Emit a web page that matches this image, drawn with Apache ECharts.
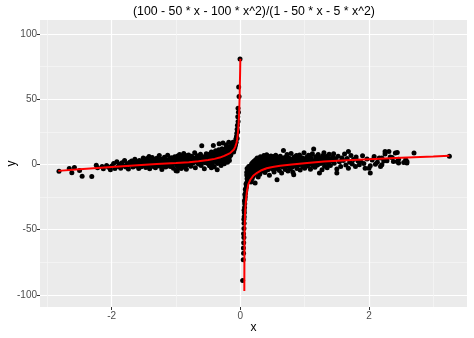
<!DOCTYPE html>
<html><head><meta charset="utf-8">
<script src="https://cdn.jsdelivr.net/npm/echarts@6/dist/echarts.min.js"></script>
<style>html,body{margin:0;padding:0;background:#fff}#c{width:474px;height:338px}</style>
</head><body><div id="c"></div>
<script>
const titleText = "(100 - 50 * x - 100 * x^2)/(1 - 50 * x - 5 * x^2)";
const xTicks = [-2, 0, 2];
const xMinor = [-3, -1, 1, 3];
const yTicks = [-100, -50, 0, 50, 100];
const yMinor = [-75, -25, 25, 75];

const curveLeft = [[-2.83,-4.9],[-2.5,-3.7],[-2.0,-1.9],[-1.6,-0.5],[-1.3,0.4],[-1.0,1.1],[-0.8,1.8],[-0.65,2.5],[-0.5,3.4],[-0.4,4.3],[-0.32,5.3],[-0.25,6.6],[-0.2,7.8],[-0.16,8.7],[-0.13,9.8],[-0.1,11.5],[-0.08,13.5],[-0.06,16.5],[-0.05,19],[-0.04,23],[-0.03,29],[-0.022,36],[-0.016,43],[-0.011,52],[-0.007,62],[-0.003,72],[0.0,81]];
const curveRight = [[0.062,-97],[0.063,-75],[0.065,-55],[0.07,-42],[0.078,-33],[0.09,-26],[0.104,-20],[0.125,-15],[0.155,-11.7],[0.2,-8.7],[0.26,-6.4],[0.33,-4.4],[0.41,-2.9],[0.5,-1.9],[0.62,-1.0],[0.8,0.0],[1.04,1.2],[1.3,2.2],[1.66,3.3],[2.0,4.1],[2.5,5.2],[3.0,6.1],[3.25,6.6]];

const pointsLeft = [
[-2.82,-5.2],[-2.66,-3.0],[-2.62,-6.3],[-2.58,-2.4],[-2.50,-4.6],[-2.46,-9.0],[-2.31,-9.3],[-2.24,-0.6],[-2.22,-2.6],[-2.15,-1.5],[-2.13,-3.2],[-2.08,-0.8],[-2.05,-2.2],[-2.02,-4.0],[-2.00,-1.2],[-1.97,0.8],[-1.95,-3.1],[-1.92,2.0],
[-1.90,-1.6],[-1.88,0.2],[-1.86,-2.8],[-1.84,1.4],[-1.82,-0.9],[-1.80,3.0],[-1.78,-1.9],[-1.76,0.6],[-1.74,-3.5],[-1.72,1.8],[-1.70,-0.4],[-1.69,2.6],[-1.67,-2.0],[-1.65,0.9],[-1.64,4.1],[-1.62,-1.2],[-1.60,1.7],[-1.58,-3.0],[-1.57,3.1],[-1.55,0.0],[-1.54,-1.8],[-1.52,2.2],[-1.51,5.0],[-1.50,-0.7],
[-1.49,1.2],[-1.48,3.4],[-1.47,-2.4],[-1.46,0.5],[-1.45,4.6],[-1.44,-1.0],[-1.43,2.0],[-1.42,6.2],[-1.41,-3.2],[-1.40,1.0],[-1.39,3.0],[-1.38,-0.3],[-1.37,5.3],[-1.36,2.5],[-1.35,-1.6],[-1.34,0.8],[-1.33,3.9],[-1.32,-2.6],[-1.31,1.6],[-1.30,4.8],[-1.29,-0.5],[-1.28,2.9],[-1.27,0.3],[-1.26,6.8],[-1.25,-1.3],[-1.24,2.2],[-1.23,4.0],[-1.22,-3.8],[-1.21,1.1],[-1.20,3.5],[-1.19,-0.9],[-1.18,5.6],[-1.17,1.9],[-1.16,-2.0],[-1.15,0.4],[-1.14,3.2],[-1.13,7.0],[-1.12,-0.2],[-1.11,2.6],[-1.10,4.4],[-1.09,-1.5],[-1.08,1.4],[-1.07,5.1],[-1.06,0.1],[-1.05,3.6],[-1.04,-2.9],[-1.03,2.1],[-1.02,6.0],[-1.01,0.7],[-1.00,-4.8],[-0.98,-5.0],
[-0.995,2.4],[-0.99,4.9],[-0.985,-0.6],[-0.98,1.8],[-0.975,6.5],[-0.97,3.1],[-0.965,-2.2],[-0.96,0.9],[-0.955,4.2],[-0.95,2.7],[-0.945,7.6],[-0.94,-1.1],[-0.935,1.5],[-0.93,5.4],[-0.925,3.3],[-0.92,-3.0],[-0.915,0.4],[-0.91,2.0],[-0.905,6.1],[-0.90,4.0],[-0.895,-0.5],[-0.89,1.7],[-0.885,3.8],[-0.88,8.4],[-0.875,2.3],[-0.87,-1.9],[-0.865,5.0],[-0.86,0.8],[-0.855,3.0],[-0.85,6.9],[-0.845,1.2],[-0.84,-3.6],[-0.835,4.5],[-0.83,2.5],[-0.825,-0.2],[-0.82,5.8],[-0.815,1.6],[-0.81,3.5],[-0.805,7.2],[-0.80,0.3],
[-0.79,4.7],[-0.78,2.2],[-0.77,-1.4],[-0.76,6.3],[-0.75,3.1],[-0.74,0.9],[-0.73,5.2],[-0.72,2.6],[-0.71,9.0],[-0.70,-2.5],[-0.69,4.0],[-0.68,1.7],[-0.67,6.6],[-0.66,3.3],[-0.65,0.4],[-0.64,5.5],[-0.63,2.4],[-0.62,7.8],[-0.61,-0.8],[-0.60,4.3],[-0.60,14.3],[-0.59,2.0],[-0.58,6.0],[-0.57,3.6],[-0.56,-3.2],[-0.55,1.3],[-0.54,5.0],[-0.53,8.2],[-0.52,2.8],[-0.51,4.6],[-0.50,0.6],
[-0.495,6.8],[-0.49,2.9],[-0.485,5.2],[-0.48,-0.9],[-0.475,8.0],[-0.47,4.1],[-0.465,1.8],[-0.46,6.3],[-0.455,3.5],[-0.45,9.6],[-0.45,-2.5],[-0.445,2.2],[-0.44,5.6],[-0.435,0.4],[-0.43,7.4],[-0.425,4.6],[-0.42,2.9],[-0.42,14.5],[-0.415,8.8],[-0.41,6.0],[-0.405,-1.8],[-0.40,4.9],[-0.395,3.0],[-0.39,7.1],[-0.385,10.5],[-0.38,5.3],[-0.375,1.9],[-0.37,6.6],[-0.365,3.9],[-0.36,9.2],[-0.36,-4.0],[-0.355,0.8],[-0.35,5.8],[-0.345,7.9],[-0.34,3.2],[-0.335,11.2],[-0.33,6.1],[-0.33,15.8],[-0.325,4.4],[-0.32,8.5],[-0.315,2.3],[-0.31,6.9],[-0.305,10.0],[-0.30,5.0],[-0.30,-0.8],[-0.295,7.6],[-0.29,3.6],[-0.285,12.0],[-0.28,6.4],[-0.275,9.1],[-0.27,4.5],[-0.27,16.5],[-0.265,7.2],[-0.26,1.6],[-0.255,10.8],[-0.25,6.0],[-0.25,0.5],[-0.245,8.3],[-0.24,4.0],[-0.235,11.6],[-0.23,7.0],[-0.225,9.5],[-0.22,5.2],[-0.22,15.0],[-0.215,13.0],[-0.21,8.0],[-0.205,6.4],[-0.20,10.4],[-0.20,1.8],[-0.195,3.8],[-0.19,9.0],[-0.185,12.4],[-0.18,7.4],[-0.18,17.0],[-0.175,10.2],[-0.17,5.8],[-0.17,3.0],[-0.165,13.8],[-0.16,9.2],[-0.155,11.4],[-0.15,7.0],
[-0.145,11.8],[-0.14,9.0],[-0.13,13.5],[-0.125,15.5],[-0.12,10.5],[-0.115,17.0],[-0.11,12.5],[-0.105,9.5],[-0.1,14.0],[-0.095,11.5],[-0.09,15.5],[-0.085,13.0],[-0.08,17.5],[-0.075,15.0],[-0.07,19.5],[-0.065,17.0],[-0.06,21.5],[-0.055,24.0],[-0.05,20.0],[-0.05,27.0],[-0.045,30.0],[-0.042,25.0],[-0.04,36.5],[-0.035,33.0],[-0.03,40.0],[-0.036,43.0],[-0.02,52.0],[-0.026,59.3],[-0.005,80.9]
];

const pointsRight = [
[0.036,-88.8],[0.045,-73],[0.05,-68],[0.048,-64],[0.052,-60],[0.055,-56],[0.05,-53],[0.056,-49],[0.058,-45],[0.055,-42],[0.06,-40],[0.062,-37],[0.058,-35],[0.065,-33],[0.068,-30],[0.064,-28],[0.072,-27],[0.076,-25],[0.07,-23],[0.08,-22],[0.085,-20],[0.078,-19],[0.09,-18],[0.095,-16.5],[0.088,-15],[0.1,-14],[0.11,-13],[0.105,-11],[0.12,-12.5],[0.115,-10],
[0.1,-6],[0.105,-3],[0.11,-9],[0.12,-4],[0.13,-1.5],[0.135,-7],[0.14,-3.5],[0.1,-8],[0.125,-9.5],[0.145,-5],
[0.152,-7.0],[0.155,-3.5],[0.158,-10.0],[0.16,-1.0],[0.163,-5.5],[0.166,-13.5],[0.17,-2.5],[0.173,-8.0],[0.176,0.5],[0.18,-4.5],[0.183,-11.0],[0.186,-1.8],[0.19,-6.5],[0.193,1.5],[0.196,-3.8],[0.2,-9.0],[0.204,-0.5],[0.208,-5.0],[0.212,2.5],[0.216,-2.6],[0.22,-7.5],[0.225,0.8],[0.23,-14.2],[0.234,-3.4],[0.238,3.6],[0.242,-1.2],[0.247,-6.0],[0.252,1.8],[0.257,-2.2],[0.262,5.0],[0.267,-4.5],[0.272,0.0],[0.277,-9.5],[0.282,2.9],[0.287,-1.6],[0.292,4.2],[0.297,-3.0],[0.302,-7.4],[0.307,1.0],[0.312,6.0],[0.318,-0.8],[0.324,3.2],[0.33,-5.2],[0.336,-1.9],[0.342,4.8],[0.348,0.6],[0.354,-3.6],[0.36,2.4],[0.366,6.8],[0.372,-1.0],[0.378,3.8],[0.384,-6.2],[0.39,1.4],[0.396,5.4],[0.402,-2.0],[0.41,7.4],[0.416,0.2],[0.422,3.0],[0.428,-4.0],[0.434,5.9],[0.44,-0.6],[0.446,2.0],[0.452,-8.2],[0.458,4.4],[0.464,1.2],[0.47,-2.8],[0.476,6.5],[0.482,0.0],[0.488,3.4],[0.494,-1.4],[0.5,5.2],
[0.505,-3.6],[0.51,2.6],[0.515,-0.2],[0.52,6.2],[0.525,-5.8],[0.53,1.5],[0.535,4.0],[0.54,-1.8],[0.545,0.9],[0.55,7.0],[0.555,-3.0],[0.56,2.2],[0.565,-0.8],[0.57,-11.7],[0.575,4.6],[0.58,1.0],[0.585,-2.4],[0.59,5.6],[0.595,-0.3],[0.6,3.0],[0.607,-4.6],[0.614,1.8],[0.621,6.4],[0.628,-1.2],[0.635,3.6],[0.642,-6.6],[0.649,0.6],[0.656,4.8],[0.663,-2.0],[0.67,10.7],[0.677,2.0],[0.684,-0.6],[0.691,5.4],[0.698,-3.8],[0.705,1.2],[0.712,3.9],[0.719,-1.5],[0.726,7.6],[0.733,0.2],[0.74,-5.0],[0.747,2.8],[0.754,5.0],[0.761,-0.8],[0.768,1.9],[0.775,-3.4],[0.782,4.2],[0.789,8.4],[0.796,0.6],[0.803,-2.2],[0.81,3.2],[0.817,-6.0],[0.824,1.4],[0.83,-7.9],[0.837,5.8],[0.844,2.4],[0.851,-1.0],[0.858,3.8],[0.865,0.4],[0.872,6.8],[0.879,-3.0],[0.886,2.0],[0.893,4.6],[0.9,-0.6],[0.91,1.6],[0.92,7.2],[0.93,-4.2],[0.94,3.0],[0.95,0.0],[0.96,5.2],[0.97,-1.8],[0.98,2.6],[0.99,9.0],[1.0,-2.8],
[1.01,3.8],[1.02,0.6],[1.03,5.6],[1.04,-1.2],[1.05,2.4],[1.06,7.0],[1.07,0.0],[1.08,3.4],[1.09,-3.6],[1.1,5.0],[1.11,1.6],[1.12,8.2],[1.13,-0.8],[1.14,11.8],[1.15,3.0],[1.16,-2.2],[1.17,6.0],[1.18,1.2],[1.19,4.2],[1.2,-0.4],[1.21,7.6],[1.22,2.4],[1.23,-6.6],[1.24,5.2],[1.25,0.8],[1.26,3.6],[1.27,-4.1],[1.28,6.6],[1.29,1.8],[1.3,9.0],[1.31,-1.4],[1.32,4.0],[1.33,2.2],[1.34,6.2],[1.35,-2.6],[1.36,3.2],[1.37,0.4],[1.38,7.8],[1.39,4.6],[1.4,-0.8],[1.42,2.8],[1.44,5.8],[1.45,8.2],[1.46,1.0],[1.48,4.4],[1.5,-3.5],[1.5,-6.6],[1.52,6.4],[1.54,2.0],[1.56,-1.6],[1.58,5.0],[1.6,3.0],
[1.62,8.0],[1.64,-0.4],[1.66,4.6],[1.68,10.0],[1.68,-2.8],[1.7,1.8],[1.72,6.8],[1.74,0.3],[1.76,3.8],[1.79,-1.5],[1.8,5.8],[1.83,2.6],[1.85,-0.2],[1.87,2.3],[1.9,6.6],[1.92,0.8],[1.94,-2.8],[1.97,4.2],[2.0,-2.8],[2.02,-6.6],[2.02,-1.0],[2.05,3.4],[2.08,6.2],[2.1,0.2],[2.13,1.8],[2.16,5.0],[2.18,-1.5],[2.2,4.9],[2.2,-0.2],[2.23,2.6],[2.25,8.0],[2.25,10.0],[2.28,2.8],[2.31,10.0],[2.33,5.8],[2.36,5.4],[2.38,2.3],[2.41,8.7],[2.44,2.3],[2.44,9.2],[2.46,1.1],[2.46,4.1],[2.54,1.5],[2.57,3.6],[2.59,1.1],[2.59,2.3],[2.7,8.7],[3.25,6.4]
];

const X_MIN = -3.115, X_MAX = 3.524, Y_MIN = -109.2, Y_MAX = 110.7;
const FONT = 'Liberation Sans, Arial, sans-serif';

const chart = echarts.init(document.getElementById('c'), null, {renderer: 'canvas'});
function hiddenAxis(min, max, vals, pos) {
  return {type: 'value', min: min, max: max, position: pos, axisLine: {show: false, onZero: false},
    axisTick: {show: false, customValues: vals}, axisLabel: {show: false, customValues: vals},
    splitLine: {show: true, lineStyle: {color: '#F5F5F5', width: 0.8}}};
}
chart.setOption({
  animation: false,
  backgroundColor: '#ffffff',
  title: {text: titleText, left: 133, top: 6, padding: 0,
    textStyle: {fontSize: 12.3, fontWeight: 'normal', color: '#000', fontFamily: FONT}},
  grid: {left: 40, right: 7, top: 20, bottom: 31, show: true, backgroundColor: '#EBEBEB', borderWidth: 0,
    containLabel: false, outerBoundsMode: 'none'},
  xAxis: [
    hiddenAxis(X_MIN, X_MAX, xMinor, 'top'),
    {type: 'value', min: X_MIN, max: X_MAX, position: 'bottom', name: 'x', nameLocation: 'middle', nameGap: 15,
     nameMoveOverlap: false,
     nameTextStyle: {fontSize: 12, color: '#000', fontFamily: FONT},
     axisLine: {show: false, onZero: false},
     axisTick: {show: true, length: 3, lineStyle: {color: '#333'}, customValues: xTicks},
     axisLabel: {customValues: xTicks, fontSize: 10, color: '#4D4D4D', margin: 4, fontFamily: FONT},
     splitLine: {show: true, lineStyle: {color: '#FFFFFF', width: 1.2}}}
  ],
  yAxis: [
    hiddenAxis(Y_MIN, Y_MAX, yMinor, 'right'),
    {type: 'value', min: Y_MIN, max: Y_MAX, position: 'left', name: 'y', nameLocation: 'middle', nameGap: 22, nameRotate: 90,
     nameMoveOverlap: false,
     nameTextStyle: {fontSize: 12, color: '#000', fontFamily: FONT},
     axisLine: {show: false, onZero: false},
     axisTick: {show: true, length: 3, lineStyle: {color: '#333'}, customValues: yTicks},
     axisLabel: {customValues: yTicks, fontSize: 10, color: '#4D4D4D', margin: 3, fontFamily: FONT},
     splitLine: {show: true, lineStyle: {color: '#FFFFFF', width: 1.2}}}
  ],
  series: [
    {type: 'scatter', xAxisIndex: 1, yAxisIndex: 1, data: pointsLeft.concat(pointsRight),
     symbol: 'circle', symbolSize: 5, itemStyle: {color: '#000000', opacity: 1}, z: 2},
    {type: 'line', xAxisIndex: 1, yAxisIndex: 1, data: curveLeft, showSymbol: false, smooth: false,
     lineStyle: {color: '#FF0000', width: 2}, z: 3},
    {type: 'line', xAxisIndex: 1, yAxisIndex: 1, data: curveRight, showSymbol: false, smooth: false,
     lineStyle: {color: '#FF0000', width: 2}, z: 3}
  ]
});
</script></body></html>
